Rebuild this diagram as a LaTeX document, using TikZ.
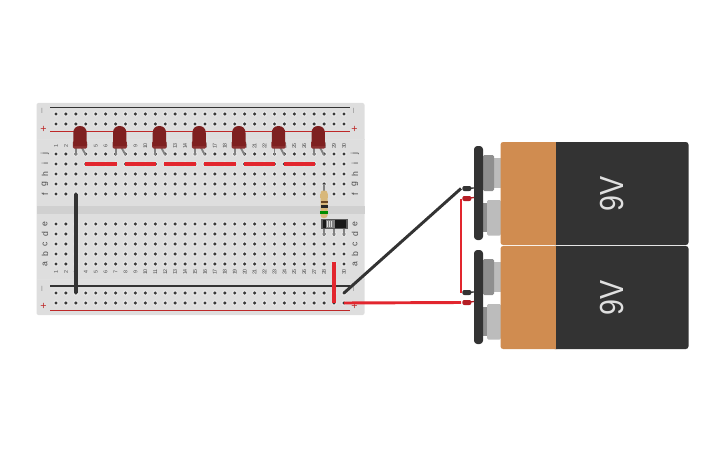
\documentclass[tikz,border=0pt]{standalone}
\usepackage{fontspec}
\setmainfont{Liberation Sans}
\usepackage{graphicx}
\usepackage{tikz}
\definecolor{boardgrey}{RGB}{222,222,222}
\definecolor{gapgrey}{RGB}{208,208,208}
\definecolor{holegrey}{RGB}{55,55,55}
\definecolor{railred}{RGB}{190,40,40}
\definecolor{wirered}{RGB}{226,38,46}
\definecolor{wiredark}{RGB}{51,51,51}
\definecolor{ledred}{RGB}{126,32,32}
\definecolor{ledrim}{RGB}{140,50,50}
\definecolor{legsgrey}{RGB}{130,130,130}
\definecolor{capgrey}{RGB}{143,143,143}
\definecolor{caplight}{RGB}{188,188,188}
\definecolor{battorange}{RGB}{208,140,80}
\definecolor{resbody}{RGB}{216,184,122}
\tikzset{
  redwire/.style={draw=wirered,line width=2.3pt},
  darkwire/.style={draw=wiredark,line width=2.3pt},
  boardlabel/.style={text=black!70,inner sep=0pt,rotate=90,font=\fontsize{6.5}{7}\selectfont},
  numlabel/.style={text=black!70,inner sep=0pt,rotate=90,font=\fontsize{4}{4}\selectfont},
  pluslabel/.style={text=railred,inner sep=0pt,font=\fontsize{8}{8}\selectfont},
  minuslabel/.style={text=black!45,inner sep=0pt,rotate=90,font=\fontsize{7}{7}\selectfont},
  voltlabel/.style={text=black!12,inner sep=0pt,rotate=90,font=\fontsize{25}{25}\selectfont},
}
\begin{document}
\begin{tikzpicture}[x=0.75pt,y=0.75pt,yscale=-1,xscale=1]
\useasboundingbox (0,0) rectangle (725,453);

%Breadboard
\fill [boardgrey,rounded corners=1.5pt] (36.5,103) rectangle (364.5,315);
\fill [gapgrey] (36.5,206) rectangle (364.5,214);
\draw [white!88!black,line width=0.5pt] (36.5,139) -- (364.5,139);
\draw [white!88!black,line width=0.5pt] (36.5,279) -- (364.5,279);
\draw [wiredark,line width=0.8pt] (50,107.7) -- (350,107.7);
\draw [railred,line width=0.7pt] (50,131) -- (350,131);
\draw [wiredark,line width=0.8pt] (50,286) -- (350,286);
\draw [railred,line width=0.7pt] (50,310) -- (350,310);

%Holes
\foreach \col in {0,...,29} {
  \foreach \row in {114,124,154,164,174,184,194,224,234,244,254,264,293,303} {
    \fill [white!91!black] ({56+9.93*\col},\row) circle (2.8);
    \fill [holegrey] ({56+9.93*\col},\row) circle (1.7);
  }
}

% Text Node
\foreach \col in {1,...,30} {
  \node [numlabel] (top\col) at ({46.07+9.93*\col},146) {\col};
  \node [numlabel] (bot\col) at ({46.07+9.93*\col},272) {\col};
}
\foreach \rowname/\row in {j/154,i/164,h/174,g/184,f/194,e/224,d/234,c/244,b/254,a/264} {
  \node [boardlabel] (left\rowname) at (45,\row) {\rowname};
  \node [boardlabel] (right\rowname) at (355,\row) {\rowname};
}
\node [minuslabel] (minusA) at (43,111) {--};
\node [pluslabel] (plusA) at (43.5,129) {+};
\node [minuslabel] (minusB) at (354.5,111) {--};
\node [pluslabel] (plusB) at (354.5,129) {+};
\node [minuslabel] (minusC) at (43,289) {--};
\node [pluslabel] (plusC) at (43.5,306.5) {+};
\node [minuslabel] (minusD) at (354.5,289) {--};
\node [pluslabel] (plusD) at (354.5,306.5) {+};

%Red wires on row i
\foreach \i in {0,...,5} {
  \coordinate (jumpA\i) at ({85+39.7*\i},164);
  \coordinate (jumpB\i) at ({116.5+39.7*\i},164);
  \draw [redwire] (jumpA\i) -- (jumpB\i);
}

%Shape: LEDs
\foreach \i in {0,...,6} {
  \begin{scope}[shift={({39.7*\i},0)}]
    \draw [legsgrey,line width=1.4pt] (76,147) -- (76,155);
    \draw [legsgrey,line width=1.4pt] (81.5,147) -- (85.8,155);
    \fill [ledrim,rounded corners=1pt] (72.8,141) rectangle (87.2,148.5);
    \fill [ledred] (73.3,146) -- (73.3,133) .. controls (73.3,128.5) and (76,126) .. (80,126) .. controls (84,126) and (86.7,128.5) .. (86.7,133) -- (86.7,146) -- cycle;
  \end{scope}
}

%Straight Lines
\coordinate (longA) at (76,194);
\coordinate (longB) at (76,293);
\draw [darkwire] (longA) -- (longB);
\coordinate (shortA) at (334,262);
\coordinate (shortB) at (334,303);
\draw [redwire] (shortA) -- (shortB);

%Resistor
\draw [legsgrey,line width=1.2pt] (324,184) -- (324,193);
\fill [resbody,rounded corners=2pt] (320.5,190.5) rectangle (327.5,218);
\fill [resbody] (319.8,194) rectangle (328.2,198);
\fill [black!45!brown] (320.5,200.5) rectangle (327.5,203);
\fill [black!85] (320.5,205) rectangle (327.5,208);
\fill [green!55!black] (319.6,210.5) rectangle (328.4,213.5);

%Slide switch
\foreach \i in {324,334,344} {
  \draw [legsgrey,line width=1.3pt] (\i,228) -- (\i,236);
}
\fill [black!65] (320.5,219) rectangle (347.7,229);
\fill [black!90] (323,220) rectangle (345.5,228);
\fill [black!50] (325.5,220.3) rectangle (335,227.8);
\foreach \i in {327,329,331} {
  \draw [white!85!black,line width=0.5pt] (\i,221) -- (\i,227);
}

%Batteries
\foreach \bat/\name in {0/A,104/B} {
  \begin{scope}[shift={(0,\bat)}]
    \fill [caplight] (494,158) rectangle (501,188);
    \fill [capgrey,rounded corners=1pt] (483,155) rectangle (494,191);
    \fill [capgrey] (483,203) rectangle (488,232);
    \fill [caplight,rounded corners=1pt] (487,200) rectangle (501,235.5);
    \fill [battorange,rounded corners=2pt] (500.5,142) rectangle (560,245);
    \fill [wiredark,rounded corners=2pt] (552,142) rectangle (688.5,245);
    \fill [battorange] (550,142) rectangle (556,245);
    \fill [wiredark,rounded corners=2.5pt] (474,146) rectangle (483,240);
    \node [voltlabel] (volt\name) at (612,194) {\scalebox{0.86}[1]{9V}};
    \coordinate (black\name) at (461,188.5);
    \coordinate (red\name) at (461,198.5);
    \draw [wiredark,line width=1pt] (466,188.5) -- (474,188);
    \draw [wirered!80!black,line width=1pt] (466,198.5) -- (474,197.5);
  \end{scope}
}

%Straight Lines between board and batteries
\coordinate (raildark) at (344,293);
\coordinate (railend) at (344,303);
\draw [draw=wiredark,line width=2.2pt] (raildark) -- (blackA);
\draw [draw=wirered,line width=2.2pt] (railend) -- (redB);
\draw [draw=wirered,line width=2.2pt] (redA) -- (blackB);

%Snaps
\foreach \name in {A,B} {
  \fill [wiredark,rounded corners=1.5pt] ([xshift=1]black\name) ++(0,-2.5) rectangle ++(9,5);
  \fill [wirered!80!black,rounded corners=1.5pt] ([xshift=1]red\name) ++(0,-2.5) rectangle ++(9,5);
}

\end{tikzpicture}
\end{document}
